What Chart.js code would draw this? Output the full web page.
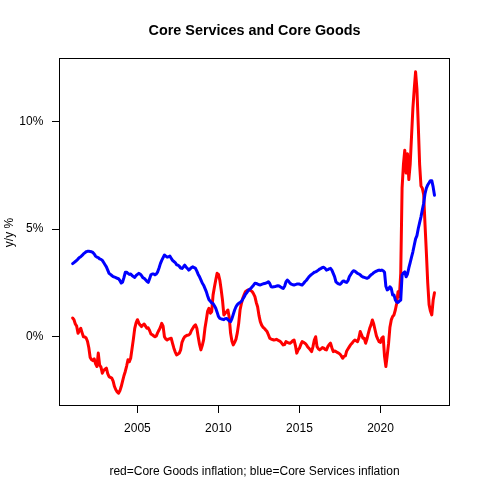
<!DOCTYPE html>
<html>
<head>
<meta charset="utf-8">
<script src="https://cdn.jsdelivr.net/npm/chart.js@4.4.0/dist/chart.umd.min.js"></script>
<style>
  html, body { margin: 0; padding: 0; background: #ffffff; }
  #wrap { width: 480px; height: 480px; }
</style>
</head>
<body>
<div id="wrap"><canvas id="c" width="480" height="480"></canvas></div>
<script>
// Monthly y/y % changes, starting January 2001
const startYear = 2001;

const coreGoods = [
  // 2001
  0.88, 0.80, 0.60, 0.50, 0.17, 0.30, 0.40, 0.20, 0.01, 0.00, -0.05, -0.20,
  // 2002
  -0.50, -0.95, -1.05, -1.10, -1.02, -1.25, -1.37, -0.75, -1.30, -1.40, -1.68, -1.55,
  // 2003
  -1.50, -1.45, -1.70, -1.84, -1.88, -1.91, -2.05, -2.30, -2.45, -2.55, -2.61, -2.50,
  // 2004
  -2.30, -2.05, -1.80, -1.60, -1.35, -1.06, -1.15, -0.99, -0.55, -0.10, 0.40, 0.65,
  // 2005
  0.80, 0.65, 0.55, 0.48, 0.55, 0.60, 0.50, 0.40, 0.42, 0.30, 0.14, 0.10,
  // 2006
  0.05, 0.01, 0.05, 0.20, 0.32, 0.45, 0.63, 0.50, 0.01, -0.10, -0.14, -0.10,
  // 2007
  -0.08, -0.06, -0.30, -0.52, -0.70, -0.83, -0.80, -0.75, -0.60, -0.25, -0.10, 0.01,
  // 2008
  0.05, 0.08, 0.09, 0.15, 0.30, 0.40, 0.50, 0.56, 0.40, 0.01, -0.35, -0.60,
  // 2009
  -0.40, -0.14, 0.40, 0.79, 1.20, 1.33, 1.10, 1.17, 1.94, 2.30, 2.64, 2.95,
  // 2010
  2.90, 2.64, 2.20, 1.71, 1.02, 1.10, 1.17, 1.25, 0.90, 0.17, -0.20, -0.37,
  // 2011
  -0.25, -0.10, 0.20, 0.63, 1.25, 1.55, 1.79, 1.95, 2.10, 2.15, 2.18, 2.18,
  // 2012
  2.15, 2.10, 2.00, 1.87, 1.60, 1.40, 1.00, 0.71, 0.55, 0.45, 0.40, 0.32,
  // 2013
  0.25, 0.10, -0.06, -0.10, -0.12, -0.14, -0.13, -0.11, -0.15, -0.18, -0.22, -0.30,
  // 2014
  -0.37, -0.35, -0.22, -0.25, -0.28, -0.29, -0.25, -0.18, -0.14, -0.40, -0.75, -0.60,
  // 2015
  -0.52, -0.35, -0.22, -0.25, -0.29, -0.35, -0.45, -0.52, -0.60, -0.68, -0.45, -0.14,
  // 2016
  0.01, -0.45, -0.55, -0.60, -0.55, -0.49, -0.52, -0.58, -0.60, -0.45, -0.35, -0.29,
  // 2017
  -0.50, -0.68, -0.65, -0.68, -0.72, -0.75, -0.80, -0.88, -0.99, -0.90, -0.88, -0.65,
  // 2018
  -0.55, -0.45, -0.35, -0.29, -0.20, -0.14, -0.18, -0.22, -0.05, 0.25, 0.10, -0.06,
  // 2019
  -0.06, -0.29, -0.10, 0.17, 0.40, 0.56, 0.79, 0.60, 0.32, 0.05, -0.10, -0.22,
  // 2020
  -0.25, -0.05, 0.01, -0.90, -1.37, -0.85, -0.30, 0.45, 0.79, 0.95, 1.02, 1.25,
  // 2021
  1.55, 2.10, 1.87, 2.95, 6.90, 8.00, 8.66, 7.60, 8.50, 7.30, 8.00, 9.30,
  // 2022
  10.60, 11.50, 12.30, 11.50, 9.80, 8.00, 7.00, 6.90, 6.60, 5.20, 3.90, 2.50,
  // 2023
  1.50, 1.20, 1.02, 1.70, 2.05
];

const coreServices = [
  // 2001
  3.40, 3.45, 3.50, 3.55, 3.62, 3.68, 3.72, 3.78, 3.85, 3.90, 3.95, 3.97,
  // 2002
  3.98, 3.96, 3.95, 3.92, 3.85, 3.75, 3.70, 3.68, 3.62, 3.60, 3.55, 3.45,
  // 2003
  3.35, 3.25, 3.10, 2.95, 2.90, 2.85, 2.80, 2.78, 2.75, 2.72, 2.70, 2.62,
  // 2004
  2.50, 2.55, 2.75, 3.00, 3.00, 2.95, 2.90, 2.92, 2.85, 2.80, 2.76, 2.85,
  // 2005
  2.90, 2.95, 2.92, 2.85, 2.75, 2.72, 2.65, 2.58, 2.53, 2.70, 2.88, 2.92,
  // 2006
  2.92, 2.88, 2.92, 3.02, 3.20, 3.40, 3.55, 3.68, 3.80, 3.75, 3.70, 3.72,
  // 2007
  3.75, 3.65, 3.55, 3.50, 3.45, 3.35, 3.33, 3.28, 3.20, 3.18, 3.25, 3.33,
  // 2008
  3.25, 3.18, 3.10, 3.15, 3.22, 3.25, 3.22, 3.18, 3.05, 2.90, 2.79, 2.65,
  // 2009
  2.50, 2.40, 2.25, 2.10, 1.90, 1.72, 1.65, 1.58, 1.55, 1.45, 1.33, 1.15,
  // 2010
  0.95, 0.86, 0.84, 0.82, 0.80, 0.85, 0.86, 0.80, 0.74, 0.71, 0.85, 1.05,
  // 2011
  1.25, 1.40, 1.50, 1.56, 1.60, 1.65, 1.75, 1.85, 1.98, 2.05, 2.15, 2.21,
  // 2012
  2.25, 2.33, 2.40, 2.49, 2.48, 2.45, 2.42, 2.41, 2.44, 2.46, 2.48, 2.49,
  // 2013
  2.52, 2.56, 2.48, 2.33, 2.32, 2.33, 2.34, 2.36, 2.37, 2.36, 2.32, 2.28,
  // 2014
  2.25, 2.35, 2.55, 2.64, 2.58, 2.49, 2.45, 2.42, 2.41, 2.43, 2.45, 2.45,
  // 2015
  2.45, 2.42, 2.41, 2.48, 2.56, 2.62, 2.70, 2.79, 2.85, 2.90, 2.95, 3.00,
  // 2016
  3.02, 3.05, 3.10, 3.15, 3.18, 3.22, 3.23, 3.18, 3.10, 3.12, 3.16, 3.18,
  // 2017
  3.10, 2.95, 2.80, 2.56, 2.50, 2.46, 2.44, 2.50, 2.58, 2.59, 2.55, 2.53,
  // 2018
  2.62, 2.80, 2.90, 3.00, 3.07, 3.05, 3.00, 2.95, 2.92, 2.88, 2.82, 2.78,
  // 2019
  2.76, 2.74, 2.72, 2.75, 2.82, 2.88, 2.92, 2.98, 3.02, 3.05, 3.08, 3.10,
  // 2020
  3.08, 3.10, 3.07, 3.00, 2.35, 2.18, 2.22, 2.33, 2.25, 1.95, 1.95, 1.72,
  // 2021
  1.62, 1.60, 1.66, 1.71, 2.87, 2.97, 3.02, 2.79, 2.92, 3.20, 3.45, 3.70,
  // 2022
  3.95, 4.25, 4.55, 4.70, 5.03, 5.30, 5.57, 5.90, 6.20, 6.65, 6.90, 7.05,
  // 2023
  7.15, 7.25, 7.25, 6.96, 6.57
];

const xTicks = [2005, 2010, 2015, 2020];
const yTicks = [0, 5, 10];

const titleText = "Core Services and Core Goods";
const xTitleText = "red=Core Goods inflation; blue=Core Services inflation";
const yTitleText = "y/y %";

function toPoints(arr) {
  return arr.map((v, i) => ({ x: startYear + i / 12, y: v }));
}

const FONT = "'Liberation Sans', Arial, Helvetica, sans-serif";

const boxPlugin = {
  id: 'box',
  afterDraw(chart) {
    const { ctx, chartArea: a } = chart;
    ctx.save();
    ctx.strokeStyle = '#000000';
    ctx.lineWidth = 1;
    const l = Math.round(a.left) - 0.5, t = Math.round(a.top) - 0.5;
    const r = Math.round(a.right) - 0.5, b = Math.round(a.bottom) - 0.5;
    ctx.strokeRect(l, t, r - l, b - t);
    ctx.restore();
  }
};

new Chart(document.getElementById('c'), {
  type: 'line',
  data: {
    datasets: [
      {
        label: 'Core Services',
        data: toPoints(coreServices),
        borderColor: '#0000FF',
        backgroundColor: '#0000FF',
        borderWidth: 3,
        pointRadius: 0,
        tension: 0,
        borderJoinStyle: 'round',
        borderCapStyle: 'round',
        fill: false
      },
      {
        label: 'Core Goods',
        data: toPoints(coreGoods),
        borderColor: '#FF0000',
        backgroundColor: '#FF0000',
        borderWidth: 3,
        pointRadius: 0,
        tension: 0,
        borderJoinStyle: 'round',
        borderCapStyle: 'round',
        fill: false
      }
    ]
  },
  options: {
    responsive: false,
    animation: false,
    devicePixelRatio: 1,
    layout: { padding: { left: 0, right: 30.5, top: 0, bottom: 0 } },
    plugins: {
      legend: { display: false },
      tooltip: { enabled: false },
      title: {
        display: true,
        text: titleText,
        fullSize: false,
        color: '#000000',
        font: { family: FONT, size: 14.4, weight: 'bold', lineHeight: 1.2 },
        padding: { top: 22.4, bottom: 19.8 }
      }
    },
    scales: {
      x: {
        type: 'linear',
        min: 2000.19,
        max: 2024.26,
        afterFit(scale) { scale.height = 74.5; },
        afterBuildTicks(scale) { scale.ticks = xTicks.map(v => ({ value: v })); },
        border: { display: false },
        grid: {
          display: true,
          drawOnChartArea: false,
          drawTicks: true,
          tickLength: 7.5,
          color: '#000000',
          tickColor: '#000000',
          lineWidth: 1
        },
        ticks: {
          color: '#000000',
          font: { family: FONT, size: 12 },
          padding: 8.8,
          maxRotation: 0,
          autoSkip: false,
          callback: (v) => String(v)
        },
        title: {
          display: true,
          text: xTitleText,
          color: '#000000',
          font: { family: FONT, size: 12, lineHeight: 1.2 },
          padding: { top: 0, bottom: 1.1 }
        }
      },
      y: {
        type: 'linear',
        min: -3.18,
        max: 12.87,
        afterFit(scale) { scale.width = 59.5; },
        afterBuildTicks(scale) { scale.ticks = yTicks.map(v => ({ value: v })); },
        border: { display: false },
        grid: {
          display: true,
          drawOnChartArea: false,
          drawTicks: true,
          tickLength: 7.5,
          color: '#000000',
          tickColor: '#000000',
          lineWidth: 1
        },
        ticks: {
          color: '#000000',
          font: { family: FONT, size: 12 },
          padding: 8.7,
          autoSkip: false,
          callback: (v) => v + '%'
        },
        title: {
          display: true,
          text: yTitleText,
          color: '#000000',
          font: { family: FONT, size: 12, lineHeight: 1.2 },
          padding: { top: 2.8, bottom: 0 }
        }
      }
    }
  },
  plugins: [boxPlugin]
});
</script>
</body>
</html>
